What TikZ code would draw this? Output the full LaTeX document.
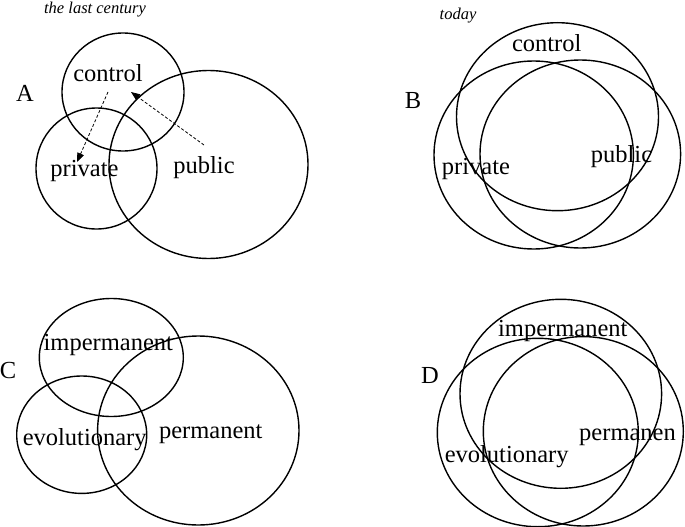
\documentclass[tikz,border=0pt]{standalone}
\usepackage{fontspec}
\setmainfont{Liberation Serif}
\usetikzlibrary{arrows.meta}
\begin{document}
\begin{tikzpicture}[x=1pt,y=-1pt,
  ring/.style={line width=1.4pt},
  lbl/.style={inner sep=0pt,anchor=base,font=\fontsize{24.5}{28}\selectfont},
  titletext/.style={inner sep=0pt,anchor=base,font=\fontsize{16.5}{19}\selectfont\itshape},
  darr/.style={line width=0.8pt,dash pattern=on 3pt off 2pt,-{Triangle[length=9pt,width=7pt]}}]
\useasboundingbox (0,0) rectangle (685,527);
% Panel A
\draw[ring] (123,92) ellipse [x radius=61pt, y radius=59pt];
\draw[ring] (96.5,168.5) ellipse [x radius=60.5pt, y radius=60.5pt];
\draw[ring] (208.5,164.5) ellipse [x radius=99.5pt, y radius=94pt];
\node[titletext] (t1) at (95,13.3) {the last century};
\node[lbl] (la) at (25,101.7) {A};
\node[lbl] (ac) at (108,81.7) {control};
\node[lbl] (ap) at (84.5,176.7) {private};
\node[lbl] (au) at (204,173.3) {public};
\coordinate (a1s) at (108,92);
\coordinate (a1e) at (77,162);
\coordinate (a2s) at (204,145);
\coordinate (a2e) at (131,92);
\draw[darr] (a1s) -- (a1e);
\draw[darr] (a2s) -- (a2e);
% Panel B
\draw[ring] (557.5,116.7) ellipse [x radius=101pt, y radius=94pt];
\draw[ring] (533.7,155) ellipse [x radius=99.7pt, y radius=94pt];
\draw[ring] (580.3,154) ellipse [x radius=100.3pt, y radius=94pt];
\node[titletext] (t2) at (458,20) {today};
\node[lbl] (lb) at (413,108.3) {B};
\node[lbl] (bc) at (546.7,51.7) {control};
\node[lbl] (bp) at (476,174) {private};
\node[lbl] (bu) at (621.5,162.7) {public};
% Panel C
\draw[ring] (111.3,357.5) ellipse [x radius=72pt, y radius=59pt];
\draw[ring] (81.7,434.7) ellipse [x radius=65pt, y radius=58.7pt];
\draw[ring] (198.3,430.5) ellipse [x radius=100.7pt, y radius=94.5pt];
\node[lbl] (lc) at (8,378.3) {C};
\node[lbl] (ci) at (108.3,350) {impermanent};
\node[lbl] (ce) at (84.7,445) {evolutionary};
\node[lbl] (cp) at (210.8,438.3) {permanent};
% Panel D
\draw[ring] (560.8,393.8) ellipse [x radius=100.8pt, y radius=94.5pt];
\draw[ring] (537.8,432.5) ellipse [x radius=100.5pt, y radius=94.2pt];
\draw[ring] (583.3,431.3) ellipse [x radius=100pt, y radius=94.7pt];
\node[lbl] (ld) at (430,383.3) {D};
\node[lbl] (di) at (562.8,336.7) {impermanent};
\node[lbl] (dp) at (627.5,440) {permanen};
\node[lbl] (de) at (506.7,462.7) {evolutionary};
\end{tikzpicture}
\end{document}
